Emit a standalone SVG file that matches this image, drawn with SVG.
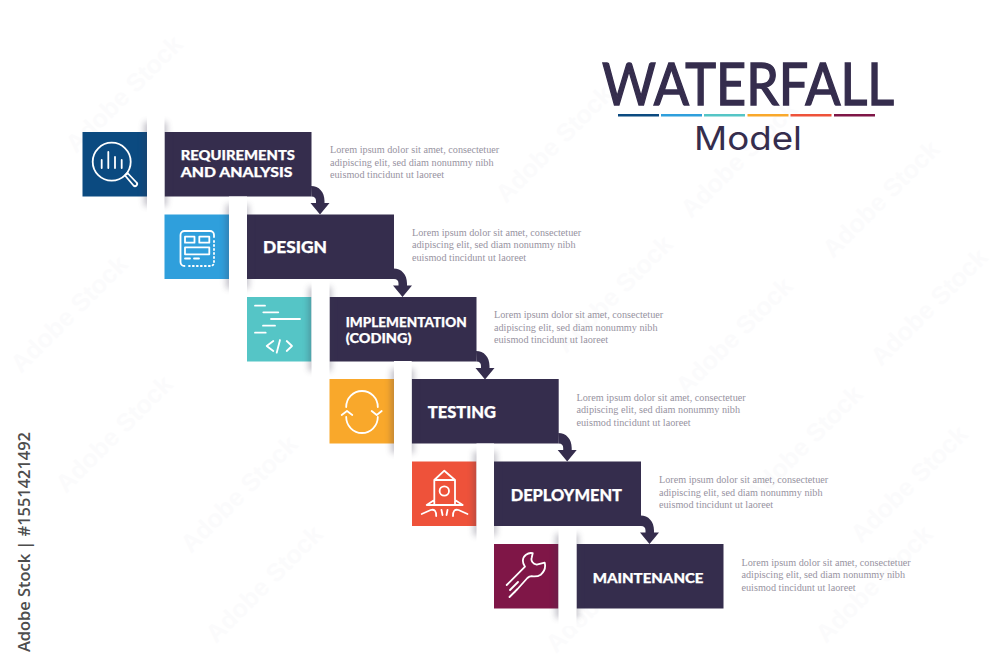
<svg xmlns="http://www.w3.org/2000/svg" width="1000" height="672" viewBox="0 0 1000 672">
<style>
.box{fill:#352d4d}
.t{font-family:"Lato","Liberation Sans",sans-serif;font-weight:900;font-size:14px;fill:#fff;stroke:#fff;stroke-width:.25}
.t2{font-size:16px}
.d{font-family:"Liberation Serif",serif;font-size:10.2px;fill:#97939f}
.ic{fill:none;stroke:#fff;stroke-width:1.8;stroke-linecap:round;stroke-linejoin:round}
.sh{fill:#3b3650;opacity:.3;filter:url(#b)}
.wm text{font-family:"Liberation Sans",sans-serif;font-weight:700;font-size:25px;fill:#fbfbfc;text-anchor:middle}
.strip{fill:#fff}
</style>
<defs>
<filter id="b" x="-100%" y="-20%" width="300%" height="140%"><feGaussianBlur stdDeviation="3"/></filter>
<path id="arrow" fill="#352d4d" d="M0 0c8 0 13.500 6 13.500 15v2h5l-9.500 11.500-9.500-11.500h5.500v-2c0-3-1.500-4.500-4.500-4.500z"/>
</defs>
<rect width="1000" height="672" fill="#fff"/>
<g class="wm">
<text transform="translate(130 100) rotate(-45)">Adobe Stock</text><text transform="translate(560 150) rotate(-45)">Adobe Stock</text><text transform="translate(745 165) rotate(-45)">Adobe Stock</text><text transform="translate(887 205) rotate(-45)">Adobe Stock</text><text transform="translate(935 313) rotate(-45)">Adobe Stock</text><text transform="translate(740 342) rotate(-45)">Adobe Stock</text><text transform="translate(620 300) rotate(-45)">Adobe Stock</text><text transform="translate(120 440) rotate(-45)">Adobe Stock</text><text transform="translate(75 320) rotate(-45)">Adobe Stock</text><text transform="translate(245 500) rotate(-45)">Adobe Stock</text><text transform="translate(810 450) rotate(-45)">Adobe Stock</text><text transform="translate(915 490) rotate(-45)">Adobe Stock</text><text transform="translate(270 590) rotate(-45)">Adobe Stock</text><text transform="translate(610 600) rotate(-45)">Adobe Stock</text><text transform="translate(880 590) rotate(-45)">Adobe Stock</text>
</g>
<g id="title">
<text x="602" y="105" font-family="Lato,'Liberation Sans',sans-serif" font-size="58" fill="#352d4d" stroke="#352d4d" stroke-width="1.400" textLength="292" lengthAdjust="spacingAndGlyphs">WATERFALL</text>
<rect x="618" y="114" width="41" height="2.500" fill="#0b4a80"/><rect x="661" y="114" width="41" height="2.500" fill="#2f9fdc"/><rect x="704" y="114" width="41" height="2.500" fill="#55c5c6"/><rect x="747.500" y="114" width="41" height="2.500" fill="#f9a82b"/><rect x="790.500" y="114" width="41" height="2.500" fill="#ee523a"/><rect x="834" y="114" width="41" height="2.500" fill="#7f1647"/>
<text x="694" y="150" font-family="Inter,'Liberation Sans',sans-serif" font-size="33" fill="#352d4d" textLength="108" lengthAdjust="spacingAndGlyphs">Model</text>
</g>
<g id="connectors">
<use href="#arrow" x="311" y="186"/><use href="#arrow" x="393.500" y="268.500"/><use href="#arrow" x="476" y="351"/><use href="#arrow" x="558.200" y="433"/><use href="#arrow" x="640.500" y="515.500"/>
</g>
<g id="step1">
<rect x="82.500" y="132" width="64.500" height="64.500" fill="#0b4a80"/><rect class="box" x="164.500" y="132" width="147" height="64.500"/>
<rect class="sh" x="144" y="122" width="23" height="84"/><rect class="strip" x="147" y="114" width="17.500" height="100"/>
<g class="ic"><circle cx="111.700" cy="161.700" r="19"/><path d="M101.700 160v8M108.300 152v16M115 157v11M121.700 160v8M125 175.500l2.500 -2.500 9 9.500a2 2 0 0 1 -3 3z"/></g>
<text class="t" x="180.700" y="160" textLength="114.300" lengthAdjust="spacingAndGlyphs">REQUIREMENTS</text><text class="t" x="180.700" y="177" textLength="111.800" lengthAdjust="spacingAndGlyphs">AND ANALYSIS</text>
<text class="d"><tspan x="330" y="153">Lorem ipsum dolor sit amet, consectetuer</tspan><tspan x="330" y="165.500">adipiscing elit, sed diam nonummy nibh</tspan><tspan x="330" y="178">euismod tincidunt ut laoreet</tspan></text>
</g>
<g id="step2">
<rect x="164.500" y="214.500" width="64.500" height="64.500" fill="#2f9fdc"/><rect class="box" x="247" y="214.500" width="147" height="64.500"/>
<rect class="sh" x="226" y="204.500" width="23" height="84"/><rect class="strip" x="229" y="196.500" width="18" height="100"/>
<g class="ic"><path d="M214 237v-2a4 4 0 0 0 -4 -4h-25.500a4 4 0 0 0 -4 4v27a4 4 0 0 0 4 4"/><path stroke-dasharray="1 3" d="M214 241v23l-2 2h-23"/><rect x="185" y="236.700" width="9.500" height="6"/><rect x="199.300" y="236.700" width="10" height="6"/><rect x="185" y="247.300" width="24.300" height="7"/><path d="M185 258.500h5M194 258.500h5"/></g>
<text class="t t2" x="263" y="253.300" textLength="64" lengthAdjust="spacingAndGlyphs">DESIGN</text>
<text class="d"><tspan x="412" y="235.500">Lorem ipsum dolor sit amet, consectetuer</tspan><tspan x="412" y="248">adipiscing elit, sed diam nonummy nibh</tspan><tspan x="412" y="260.500">euismod tincidunt ut laoreet</tspan></text>
</g>
<g id="step3">
<rect x="247" y="297" width="64.500" height="64.500" fill="#55c5c6"/><rect class="box" x="329.500" y="297" width="147" height="64.500"/>
<rect class="sh" x="308.500" y="287" width="23" height="84"/><rect class="strip" x="311.500" y="279" width="18" height="100"/>
<g class="ic"><path d="M255 305.700h10M263.300 312.300h15M271 319h29M263 325.700h12M255 332.700h10.700M273.300 341l-6.600 5 6.600 5M286.700 341l5.300 5 -5.300 5M280 340l-3.300 12.700"/></g>
<text class="t" x="345.700" y="327.300" textLength="121" lengthAdjust="spacingAndGlyphs">IMPLEMENTATION</text><text class="t" x="345.700" y="342.500" textLength="65.800" lengthAdjust="spacingAndGlyphs">(CODING)</text>
<text class="d"><tspan x="494" y="318">Lorem ipsum dolor sit amet, consectetuer</tspan><tspan x="494" y="330.500">adipiscing elit, sed diam nonummy nibh</tspan><tspan x="494" y="343">euismod tincidunt ut laoreet</tspan></text>
</g>
<g id="step4">
<rect x="329.500" y="379" width="64.500" height="64.500" fill="#f9a82b"/><rect class="box" x="411.700" y="379" width="147" height="64.500"/>
<rect class="sh" x="391" y="369" width="23" height="84"/><rect class="strip" x="394" y="361" width="17.700" height="100"/>
<g class="ic"><path d="M346.200 407a15.800 16 0 0 1 31.600 0M346.200 417a15.800 16 0 0 0 31.600 0M341.700 415l5.300 -4 5.300 4M371.700 411l5 4 5 -4"/></g>
<text class="t t2" x="427.700" y="417.700" textLength="68.300" lengthAdjust="spacingAndGlyphs">TESTING</text>
<text class="d"><tspan x="576.500" y="400.500">Lorem ipsum dolor sit amet, consectetuer</tspan><tspan x="576.500" y="413">adipiscing elit, sed diam nonummy nibh</tspan><tspan x="576.500" y="425.500">euismod tincidunt ut laoreet</tspan></text>
</g>
<g id="step5">
<rect x="412" y="461.500" width="64.500" height="64.500" fill="#ee523a"/><rect class="box" x="494" y="461.500" width="147" height="64.500"/>
<rect class="sh" x="473.500" y="451.500" width="23" height="84"/><rect class="strip" x="476.500" y="443.500" width="17.500" height="100"/>
<g class="ic"><path d="M434.300 505v-25l10 -9.300 10.700 9.300v25zM434.300 480h20.700M434.300 500l-7.600 5h7.600M455 500l7.700 5h-7.700"/><circle cx="444.300" cy="491" r="4.700"/><path d="M421.700 514l9 -4c4 -1 5.500 1 5.500 6M467.500 514l-9 -4c-4 -1 -5.500 1 -5.500 6M441.500 510l1 5M447.500 510l-1 5"/></g>
<text class="t t2" x="510.700" y="500.500" textLength="111.300" lengthAdjust="spacingAndGlyphs">DEPLOYMENT</text>
<text class="d"><tspan x="659" y="483">Lorem ipsum dolor sit amet, consectetuer</tspan><tspan x="659" y="495.500">adipiscing elit, sed diam nonummy nibh</tspan><tspan x="659" y="508">euismod tincidunt ut laoreet</tspan></text>
</g>
<g id="step6">
<rect x="494" y="544" width="64.500" height="64.500" fill="#7f1647"/><rect class="box" x="576.500" y="544" width="147" height="64.500"/>
<rect class="sh" x="555.500" y="534" width="23" height="84"/><rect class="strip" x="558.500" y="526" width="18" height="100"/>
<g class="ic"><path d="M506.700 585l18.300 -18.300c-3 -4 -3 -9 1 -12 2 -1.500 4.500 -2 6.700 -1.500l-1 4.500c-1 3 1 6 5 7l8 -2c1 4 -.500 9 -4 12 -3 2 -6 2 -9 1.500 -2 0 -3 .500 -4.300 1.800l-13 14.500M510 590l8 -8M509.500 597l8 -8"/></g>
<text class="t" x="592.700" y="582.700" textLength="110.800" lengthAdjust="spacingAndGlyphs">MAINTENANCE</text>
<text class="d"><tspan x="741.500" y="565.500">Lorem ipsum dolor sit amet, consectetuer</tspan><tspan x="741.500" y="578">adipiscing elit, sed diam nonummy nibh</tspan><tspan x="741.500" y="590.500">euismod tincidunt ut laoreet</tspan></text>
</g>
<text id="credit" transform="translate(30 652) rotate(-90)" font-family="'Open Sans','Noto Sans',sans-serif" font-size="16.500" font-weight="600" fill="#4d4d4d" textLength="220">Adobe Stock | #1551421492</text>
</svg>
